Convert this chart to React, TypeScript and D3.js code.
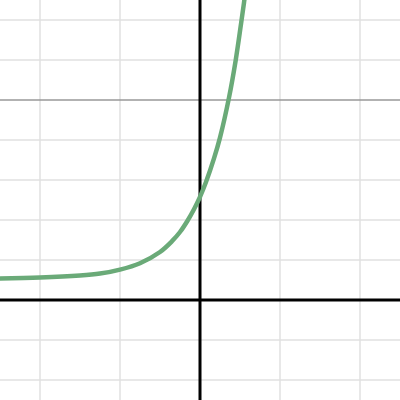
import * as d3 from "d3";

// curve samples (x, y in graph units)
const curveX = [-2.5, -2, -1.5, -1.25, -1, -0.75, -0.5, -0.35, -0.25, -0.16, -0.075, 0, 0.075, 0.175, 0.25, 0.3625, 0.445, 0.5125, 0.55, 0.565];
const curveY = [0.54, 0.56, 0.61, 0.66, 0.76, 0.92, 1.2, 1.47, 1.7, 1.97, 2.27, 2.58, 2.95, 3.54, 4.06, 5.06, 5.98, 6.9, 7.43, 7.68];

// grid lines
const gridX = [-2, -1, 1, 2];
const gridY = [-2, -1, 1, 2, 3, 4, 6, 7];
const majorY = [5];

const W = 400;
const H = 400;

const App = () => {
  const x = d3.scaleLinear().domain([-2.5, 2.5]).range([0, W]);
  const y = d3.scaleLinear().domain([-2.5, 7.5]).range([H, 0]);

  const pts: [number, number][] = curveX.map((v, i) => [v, curveY[i]]);
  const line = d3
    .line<[number, number]>()
    .x((d) => x(d[0]))
    .y((d) => y(d[1]))
    .curve(d3.curveCatmullRom.alpha(0.5));

  return (
    <div style={{ position: "fixed", left: 0, top: 0 }}>
      <svg width={W} height={H} style={{ display: "block", background: "#fff" }}>
        <defs>
          <clipPath id="plot">
            <rect x={0} y={0} width={W} height={H} />
          </clipPath>
        </defs>
        {gridX.map((v) => (
          <line key={"gx" + v} x1={x(v)} x2={x(v)} y1={0} y2={H} stroke="#e0e0e0" strokeWidth={1.5} />
        ))}
        {gridY.map((v) => (
          <line key={"gy" + v} x1={0} x2={W} y1={y(v)} y2={y(v)} stroke="#e0e0e0" strokeWidth={1.5} />
        ))}
        {majorY.map((v) => (
          <line key={"my" + v} x1={0} x2={W} y1={y(v)} y2={y(v)} stroke="#999" strokeWidth={1.5} />
        ))}
        {/* axes */}
        <line x1={x(0)} x2={x(0)} y1={0} y2={H} stroke="#000" strokeWidth={3} />
        <line x1={0} x2={W} y1={y(0)} y2={y(0)} stroke="#000" strokeWidth={3} />
        <path
          d={line(pts) || ""}
          fill="none"
          stroke="#6aaa78"
          strokeWidth={4.5}
          strokeLinecap="round"
          clipPath="url(#plot)"
        />
      </svg>
    </div>
  );
};

export default App;
